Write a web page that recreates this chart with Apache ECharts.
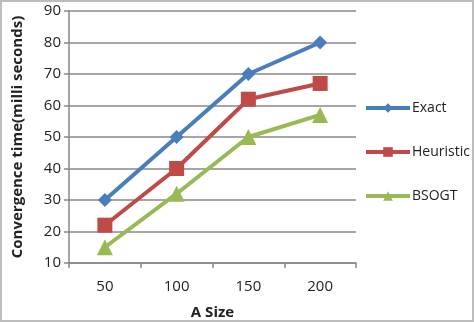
<!DOCTYPE html>
<html>
<head>
<meta charset="utf-8">
<script src="https://cdn.jsdelivr.net/npm/echarts@6/dist/echarts.min.js"></script>
<style>
html, body { margin: 0; padding: 0; background: #fff; }
#chart { width: 470px; height: 318px; border: 2px solid #bdbdbd; }
</style>
</head>
<body>
<div id="chart"></div>
<script>
var sizes = ['50', '100', '150', '200'];
var exact = [30, 50, 70, 80];
var heuristic = [22, 40, 62, 67];
var bsogt = [15, 32, 50, 57];

var chart = echarts.init(document.getElementById('chart'));

var option = {
	color: ['#4a7ebb', '#be4b48', '#98b954'],
	textStyle: { fontFamily: 'Open Sans' },
	grid: { left: 67, right: 116, top: 9, bottom: 57, outerBoundsMode: 'none' },
	legend: {
		orient: 'vertical',
		left: 357,
		top: 94,
		itemWidth: 44,
		itemHeight: 12,
		itemGap: 30,
		lineStyle: { width: 4 },
		textStyle: { fontSize: 14, color: '#222', padding: [0, 0, 0, -3] },
		data: ['Exact', 'Heuristic', 'BSOGT']
	},
	xAxis: {
		type: 'category',
		data: sizes,
		name: 'A Size',
		nameLocation: 'middle',
		nameGap: 42,
		nameTextStyle: { fontSize: 15, fontWeight: 'bold', color: '#222' },
		axisLine: { lineStyle: { color: '#888', width: 1.5 } },
		axisTick: { show: true, length: 5, lineStyle: { color: '#888', width: 1.5 } },
		axisLabel: { fontSize: 15, color: '#222', margin: 16 }
	},
	yAxis: {
		type: 'value',
		min: 10,
		max: 90,
		interval: 10,
		name: 'Convergence time(milli seconds)',
		nameLocation: 'middle',
		nameGap: 44,
		nameTextStyle: { fontSize: 15, fontWeight: 'bold', color: '#222' },
		axisLine: { show: true, lineStyle: { color: '#888', width: 1.5 } },
		axisTick: { show: true, length: 5, lineStyle: { color: '#888', width: 1.5 } },
		axisLabel: { fontSize: 15, color: '#222', margin: 8 },
		splitLine: { lineStyle: { color: '#888', width: 1.5 } }
	},
	series: [
		{
			name: 'Exact',
			type: 'line',
			data: exact,
			symbol: 'diamond',
			symbolSize: 14,
			lineStyle: { width: 4 }
		},
		{
			name: 'Heuristic',
			type: 'line',
			data: heuristic,
			symbol: 'rect',
			symbolSize: 15,
			lineStyle: { width: 4 }
		},
		{
			name: 'BSOGT',
			type: 'line',
			data: bsogt,
			symbol: 'triangle',
			symbolSize: 16,
			lineStyle: { width: 4 }
		}
	]
};
chart.setOption(option);
</script>
</body>
</html>
